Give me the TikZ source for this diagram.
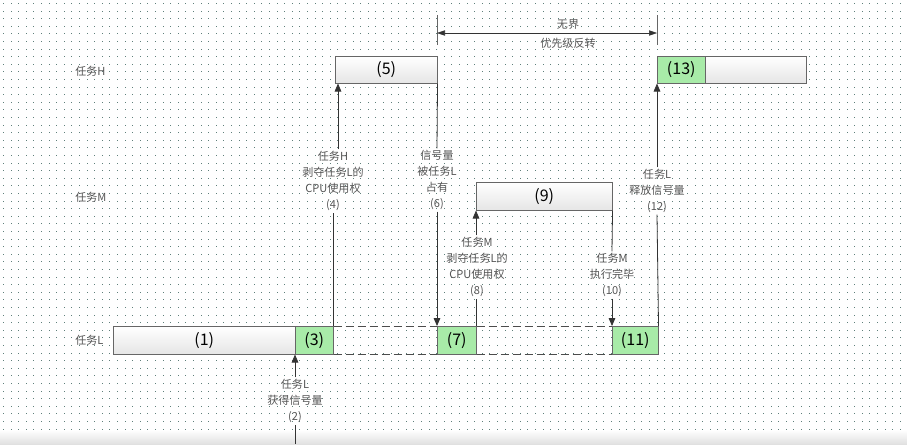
\documentclass[tikz,border=0pt]{standalone}
\usepackage{fontspec}
\setmainfont{Noto Sans CJK SC}
\usetikzlibrary{arrows.meta}
\definecolor{gridc}{HTML}{5E7F7A}
\definecolor{grn}{HTML}{A8EBA8}
\definecolor{txt}{HTML}{555555}
\tikzset{
  lab/.style={text=txt,font=\fontsize{8.3}{12.2}\selectfont,align=center,inner sep=1pt},
  rowlab/.style={text=txt,font=\fontsize{8.3}{10}\selectfont,anchor=west,inner sep=0pt},
  wbox/.style={draw=black!60,top color=white,bottom color=black!10,font=\fontsize{12}{14}\selectfont,inner sep=0pt},
  gbox/.style={draw=black!60,fill=grn,font=\fontsize{12}{14}\selectfont,inner sep=0pt},
  conn/.style={draw=black!80,line width=0.6pt},
  arr/.style={conn,-{Triangle[length=6pt,width=5pt]}},
}
\begin{document}
\begin{tikzpicture}[x=0.75pt,y=-0.75pt]
\useasboundingbox (0,0) rectangle (907,444);
\fill[white] (0,0) rectangle (907,444);
\foreach \i in {0,...,119}{\foreach \j in {0,...,57}{
  \fill[gridc] ({3+\i*7.6},{3+\j*7.6}) rectangle ++(1,1);}}
\shade[top color=white,bottom color=black!12] (0,430) rectangle (907,444);
% row labels
\node[rowlab] (lh) at (75,71) {任务H};
\node[rowlab] (lm) at (75,197) {任务M};
\node[rowlab] (ll) at (75,340) {任务L};
% boxes
\node[wbox,minimum width=102*0.75pt,minimum height=27*0.75pt,anchor=north west] (b5) at (335,56) {(5)};
\node[gbox,minimum width=48*0.75pt,minimum height=27*0.75pt,anchor=north west] (b13) at (657,56) {(13)};
\node[wbox,minimum width=101*0.75pt,minimum height=27*0.75pt,anchor=north west] (b13r) at (705,56) {};
\node[wbox,minimum width=136*0.75pt,minimum height=28*0.75pt,anchor=north west] (b9) at (476,182) {(9)};
\node[wbox,minimum width=182*0.75pt,minimum height=28*0.75pt,anchor=north west] (b1) at (113,326) {(1)};
\node[gbox,minimum width=38*0.75pt,minimum height=28*0.75pt,anchor=north west] (b3) at (295,326) {(3)};
\node[gbox,minimum width=39*0.75pt,minimum height=28*0.75pt,anchor=north west] (b7) at (437,326) {(7)};
\node[gbox,minimum width=46*0.75pt,minimum height=28*0.75pt,anchor=north west] (b11) at (612,326) {(11)};
\draw[black!70,dashed,dash pattern=on 6pt off 3pt] (b3.north east) -- (b7.north west) (b7.north east) -- (b11.north west)
  (b3.south east) -- (b7.south west) (b7.south east) -- (b11.south west);
% top bracket
\coordinate (t1) at (437,15); \coordinate (t2) at (657,15);
\draw[black!60] (t1) -- ++(0,30) (t2) -- ++(0,30);
\draw[{Triangle[length=6pt,width=4pt]}-{Triangle[length=6pt,width=4pt]},black!80] (437,33) -- (657,33);
\node[lab] (tl1) at (568,24) {无界};
\node[lab] (tl2) at (568,43) {优先级反转};
% (4)
\node[lab] (l4) at (333,181) {任务H\\剥夺任务L的\\CPU使用权\\(4)};
\coordinate (c4) at (333,326);
\draw[conn] (c4) -- (l4.south -| c4);
\draw[arr] (l4.north -| b5.south west) ++(3,0) -- ([xshift=3*0.75pt]b5.south west);
% (6)
\node[lab] (l6) at (437,180) {信号量\\被任务L\\占有\\(6)};
\draw[conn] (b5.south east) -- (l6.north);
\draw[arr] (l6.south) -- (b7.north west);
% (8)
\node[lab] (l8) at (477,267) {任务M\\剥夺任务L的\\CPU使用权\\(8)};
\draw[conn] (b7.north east) -- (l8.south -| b7.north east);
\draw[arr] (l8.north -| b9.south west) -- (b9.south west);
% (10)
\node[lab] (l10) at (612,275) {任务M\\执行完毕\\(10)};
\draw[conn] (b9.south east) -- (l10.north);
\draw[arr] (l10.south) -- (b11.north west);
% (12)
\node[lab] (l12) at (657,191) {任务L\\释放信号量\\(12)};
\draw[conn] (b11.north east) -- (l12.south);
\draw[arr] (l12.north) -- (b13.south west);
% (2)
\node[lab] (l2) at (295,401) {任务L\\获得信号量\\(2)};
\coordinate (c2) at (295,444);
\draw[conn] (c2) -- (l2.south);
\draw[arr] (l2.north) -- (b3.south west);
\end{tikzpicture}
\end{document}
